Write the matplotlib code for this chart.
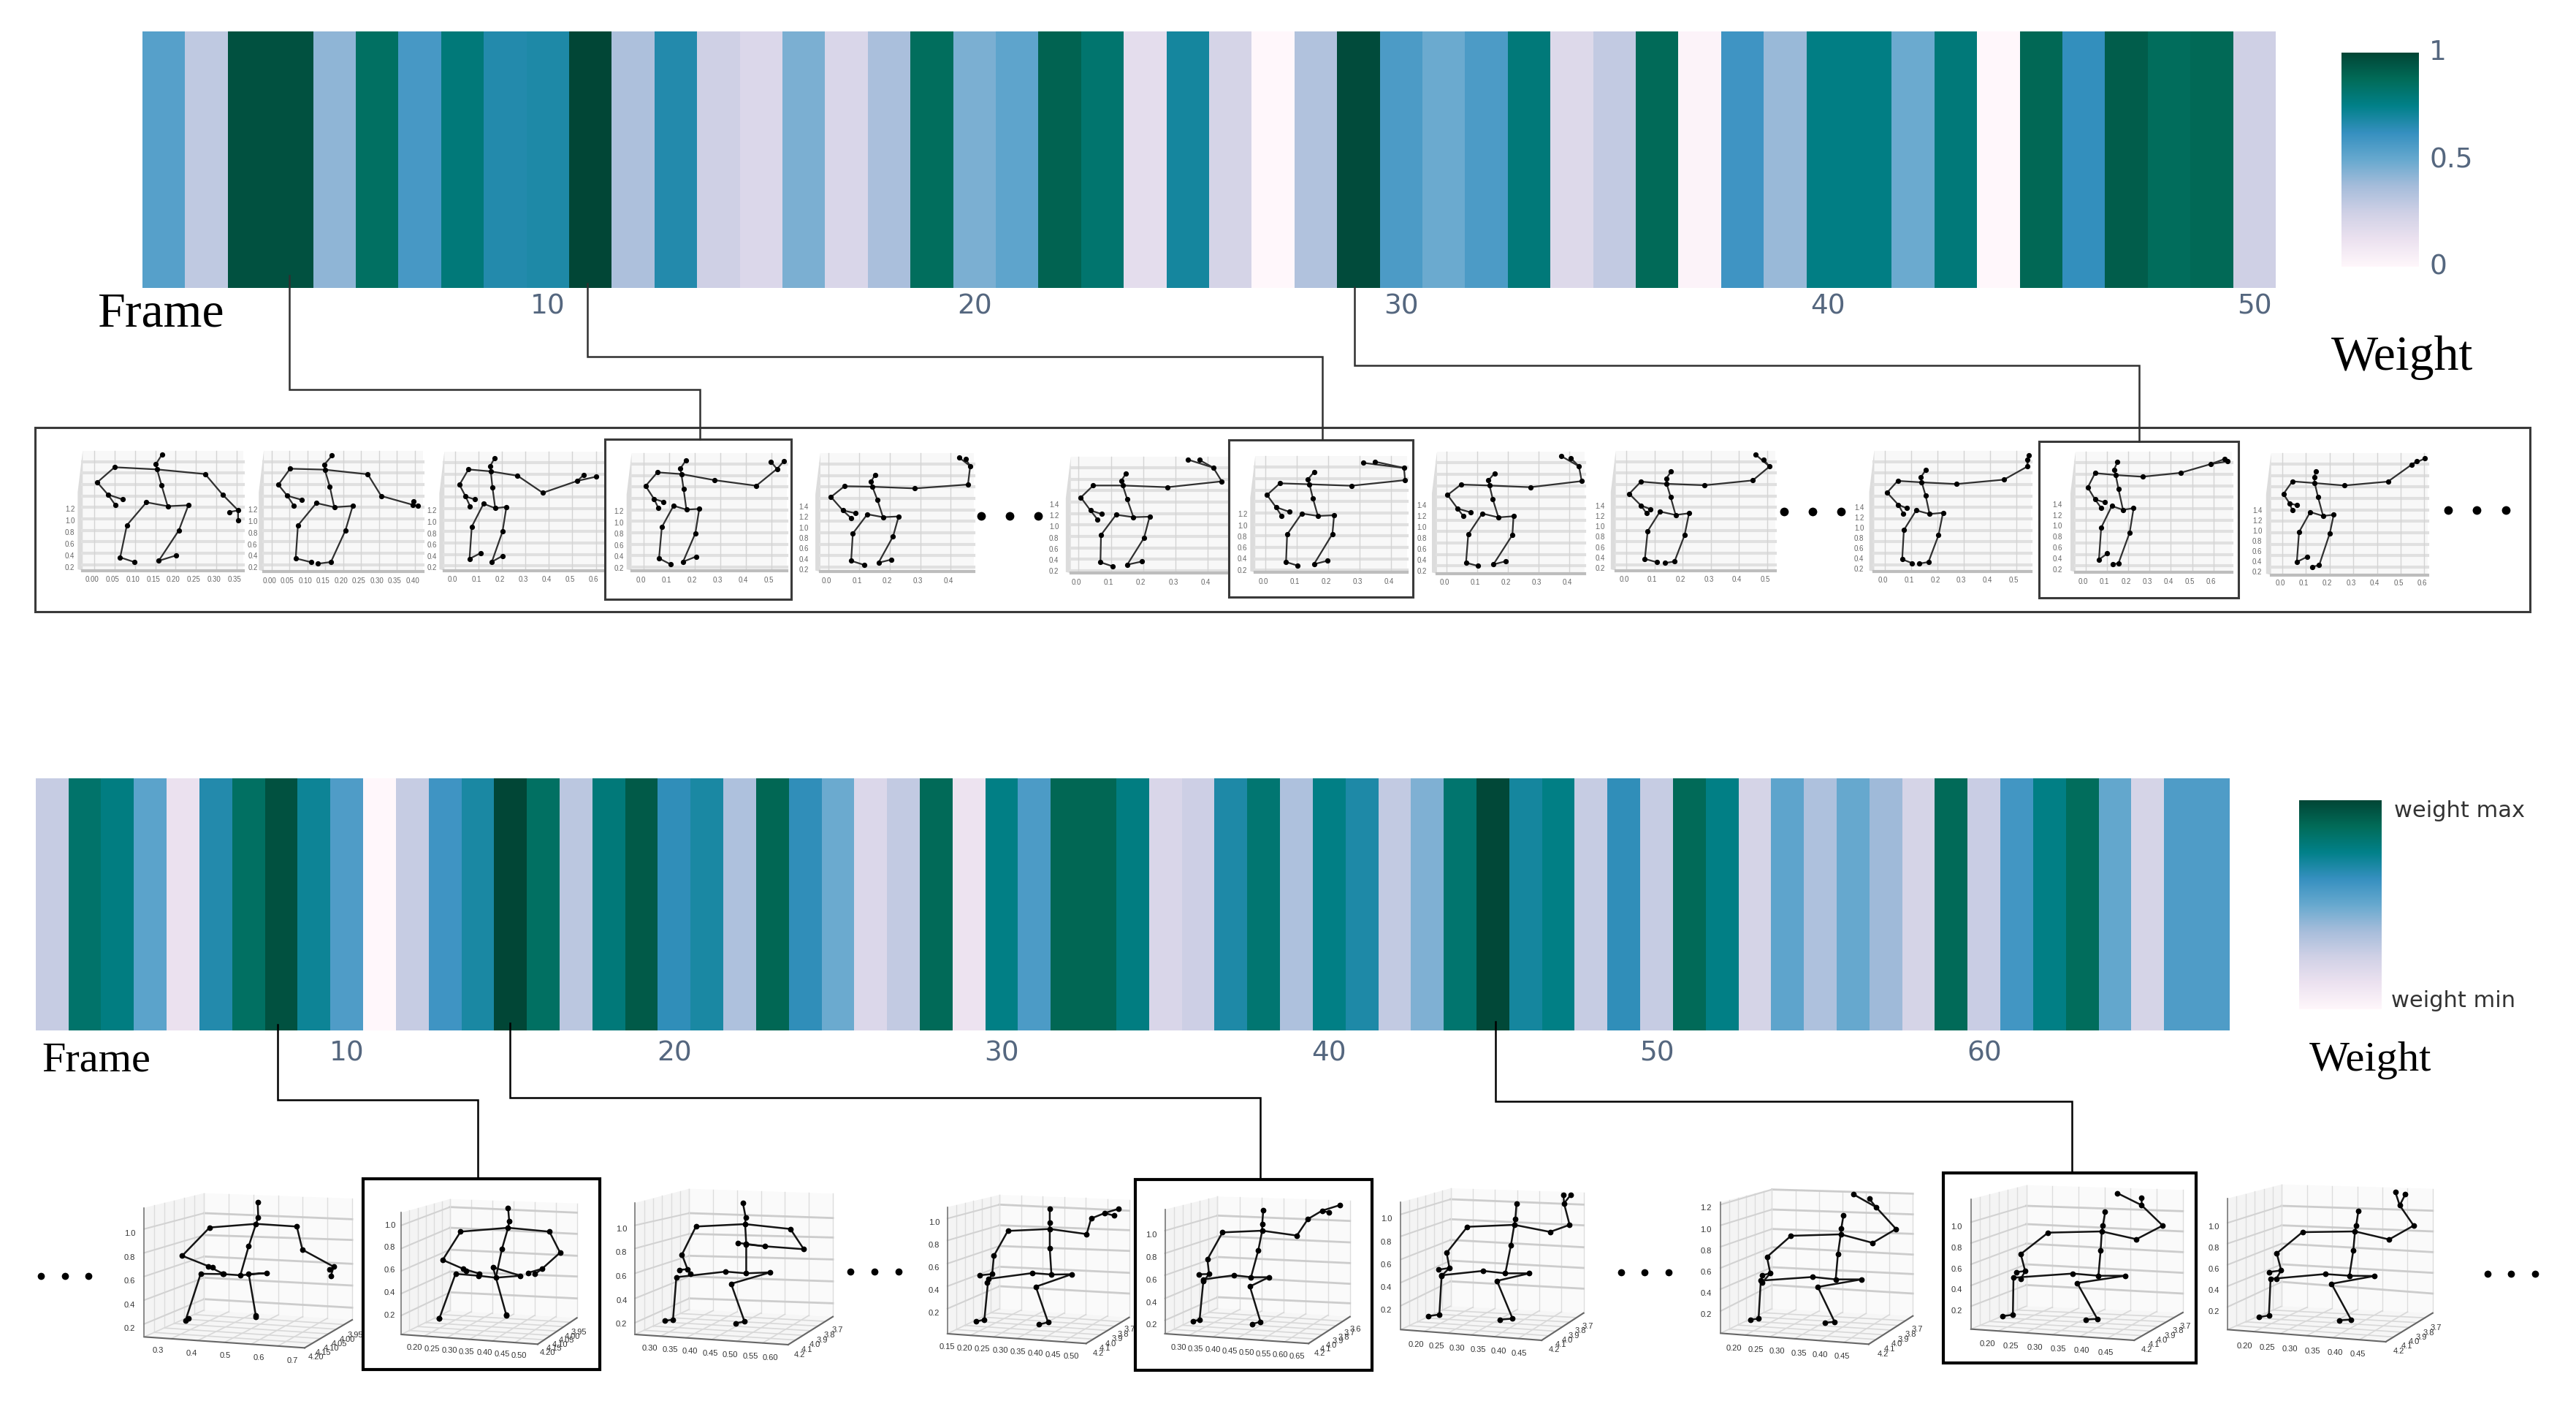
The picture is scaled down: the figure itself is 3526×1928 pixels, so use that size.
import numpy as np
import matplotlib
matplotlib.use("Agg")
import matplotlib.pyplot as plt
from matplotlib.patches import Polygon, Rectangle

W, H = 3526, 1928

# frame weights
top_weights = [0.54, 0.30, 0.96, 0.96, 0.42, 0.85, 0.58, 0.79, 0.67, 0.68,
               1.00, 0.355, 0.67, 0.25, 0.20, 0.46, 0.21, 0.36, 0.86, 0.46,
               0.52, 0.90, 0.82, 0.16, 0.70, 0.23, 0.00, 0.34, 0.98, 0.57,
               0.49, 0.57, 0.79, 0.19, 0.29, 0.875, 0.02, 0.60, 0.40, 0.765,
               0.765, 0.49, 0.79, 0.00, 0.885, 0.63, 0.92, 0.865, 0.88, 0.25]
bottom_weights = [0.28, 0.83, 0.77, 0.53, 0.13, 0.67, 0.85, 0.96, 0.72, 0.56,
                  0.00, 0.28, 0.60, 0.69, 1.00, 0.85, 0.31, 0.79, 0.93, 0.64,
                  0.69, 0.35, 0.89, 0.64, 0.49, 0.20, 0.29, 0.875, 0.12, 0.76,
                  0.57, 0.89, 0.89, 0.77, 0.21, 0.26, 0.68, 0.81, 0.35, 0.76,
                  0.68, 0.29, 0.45, 0.82, 0.99, 0.70, 0.76, 0.28, 0.64, 0.28,
                  0.875, 0.76, 0.23, 0.52, 0.35, 0.50, 0.39, 0.23, 0.875, 0.27,
                  0.59, 0.76, 0.865, 0.51, 0.23, 0.56, 0.56]
top_ticks = [10, 20, 30, 40, 50]
bottom_ticks = [10, 20, 30, 40, 50, 60]

# crops the joints were read in
ORG_A, ORG_B, ORG_C = (0, 570), (1100, 570), (2290, 570)
ORG_D, ORG_E, ORG_F = (0, 1580), (1150, 1580), (2326, 1580)
SX, SY = 1.307, 3.0

# joint order: head, chin, neck, spine, pelvis / l shoulder, elbow, wrist, hand, hand /
# r shoulder, elbow, wrist, hand, hand / l hip, knee, ankle, foot / r hip, knee, ankle, foot
limbs = [[0, 1, 2, 3, 4], [2, 5, 6, 7, 8], [7, 9], [2, 10, 11, 12, 13], [12, 14],
         [4, 15, 16, 17, 18], [4, 19, 20, 21, 22]]

top_org = [ORG_A, ORG_A, ORG_A, ORG_A, ORG_B, ORG_B, ORG_B, ORG_B, ORG_B, ORG_C, ORG_C, ORG_C]
top_x = [
    [290, 279, 281, 289, 300, 205, 174, 193, 206, 219, 367, 398, 426, 426, 410, 262, 227, 215, 240, 337, 320, 284, 315],
    [594, 580, 581, 590, 598, 519, 498, 514, 526, 540, 658, 682, 738, 748, 740, 566, 533, 529, 557, 631, 618, 592, 569],
    [885, 877, 878, 881, 886, 838, 822, 833, 841, 849, 926, 971, 1033, 1066, 1044, 865, 844, 840, 860, 906, 899, 880, 899],
    [1227, 1217, 1219, 1223, 1228, 1176, 1155, 1170, 1178, 1187, 1278, 1353, 1390, 1402, 1379, 1205, 1184, 1179, 1200, 1251, 1244, 1222, 1245],
    [128, 120, 123, 132, 142, 73, 49, 70, 85, 93, 199, 294, 298, 278, 290, 114, 88, 85, 108, 170, 160, 134, 157],
    [577, 568, 571, 579, 590, 518, 496, 513, 526, 533, 651, 748, 733, 688, 708, 559, 532, 531, 553, 619, 609, 579, 605],
    [913, 902, 905, 911, 920, 852, 829, 845, 855, 869, 980, 1076, 1074, 1001, 1022, 891, 865, 863, 884, 949, 946, 913, 937],
    [1236, 1225, 1227, 1233, 1243, 1176, 1152, 1170, 1180, 1193, 1300, 1392, 1387, 1355, 1373, 1214, 1189, 1185, 1206, 1270, 1268, 1234, 1256],
    [1552, 1543, 1544, 1551, 1560, 1498, 1477, 1498, 1508, 1515, 1612, 1698, 1728, 1703, 1718, 1532, 1510, 1505, 1526, 1584, 1576, 1558, 1541],
    [452, 443, 445, 452, 459, 402, 383, 403, 412, 418, 507, 592, 634, 636, 634, 435, 413, 410, 428, 483, 475, 457, 440],
    [795, 789, 792, 797, 805, 755, 742, 755, 766, 772, 840, 908, 962, 992, 987, 785, 766, 762, 777, 824, 817, 797, 787],
    [1150, 1147, 1148, 1154, 1163, 1108, 1092, 1103, 1108, 1116, 1201, 1279, 1321, 1345, 1331, 1140, 1120, 1116, 1134, 1182, 1175, 1156, 1143],
]
top_y = [
    [155, 195, 217, 282, 368, 208, 270, 320, 362, 340, 236, 320, 385, 425, 392, 352, 446, 578, 597, 364, 467, 592, 570],
    [160, 198, 218, 287, 372, 214, 280, 325, 367, 342, 237, 326, 362, 367, 348, 355, 447, 582, 598, 367, 467, 597, 604],
    [170, 203, 225, 291, 376, 217, 280, 328, 368, 340, 243, 313, 264, 247, 240, 358, 452, 584, 560, 371, 472, 596, 572],
    [180, 214, 236, 298, 382, 229, 285, 338, 376, 350, 261, 284, 215, 184, 185, 366, 454, 582, 607, 379, 479, 596, 575],
    [240, 268, 288, 342, 413, 286, 330, 385, 417, 397, 295, 279, 203, 168, 175, 401, 480, 592, 609, 410, 492, 600, 587],
    [233, 264, 283, 340, 413, 283, 332, 385, 423, 400, 290, 266, 210, 177, 178, 403, 486, 598, 615, 411, 498, 608, 595],
    [228, 258, 278, 335, 408, 274, 322, 372, 408, 391, 284, 261, 211, 190, 185, 398, 484, 597, 612, 405, 482, 606, 592],
    [233, 262, 283, 340, 414, 279, 322, 378, 408, 393, 290, 265, 204, 162, 172, 398, 484, 600, 613, 409, 486, 607, 594],
    [226, 255, 276, 330, 404, 267, 317, 365, 397, 380, 282, 262, 205, 156, 178, 390, 470, 584, 598, 397, 487, 595, 601],
    [220, 250, 270, 325, 400, 264, 312, 362, 398, 376, 277, 259, 205, 158, 178, 385, 466, 586, 602, 395, 487, 597, 604],
    [187, 218, 240, 298, 383, 232, 291, 340, 375, 352, 247, 231, 195, 184, 174, 367, 456, 587, 562, 376, 476, 602, 607],
    [224, 250, 273, 331, 408, 266, 318, 356, 385, 364, 283, 267, 198, 172, 182, 392, 474, 597, 576, 403, 479, 610, 617],
]
# pane: x0, x1, y top, y bottom in the crop
top_pane = [(148, 435, 140, 632), (472, 757, 140, 635), (795, 1080, 145, 632), (1130, 1408, 150, 632),
            (30, 305, 150, 637), (478, 760, 165, 643), (808, 1080, 163, 640), (1133, 1397, 145, 645),
            (1453, 1738, 140, 632), (360, 640, 140, 637), (720, 1000, 145, 638), (1070, 1350, 150, 650)]
top_xlabels = [["0.00", "0.05", "0.10", "0.15", "0.20", "0.25", "0.30", "0.35"],
               ["0.00", "0.05", "0.10", "0.15", "0.20", "0.25", "0.30", "0.35", "0.40"],
               ["0.0", "0.1", "0.2", "0.3", "0.4", "0.5", "0.6"],
               ["0.0", "0.1", "0.2", "0.3", "0.4", "0.5"],
               ["0.0", "0.1", "0.2", "0.3", "0.4"],
               ["0.0", "0.1", "0.2", "0.3", "0.4"],
               ["0.0", "0.1", "0.2", "0.3", "0.4"],
               ["0.0", "0.1", "0.2", "0.3", "0.4"],
               ["0.0", "0.1", "0.2", "0.3", "0.4", "0.5"],
               ["0.0", "0.1", "0.2", "0.3", "0.4", "0.5"],
               ["0.0", "0.1", "0.2", "0.3", "0.4", "0.5", "0.6"],
               ["0.0", "0.1", "0.2", "0.3", "0.4", "0.5", "0.6"]]
top_xlab_pos = [(165, 419, 668), (482, 738, 674), (810, 1062, 668), (1147, 1376, 672), (41, 259, 674),
                (488, 719, 680), (822, 1047, 678), (1146, 1366, 682), (1468, 1720, 668), (375, 610, 673),
                (734, 963, 678), (1086, 1340, 685)]
top_ylabels = [["1.2", "1.0", "0.8", "0.6", "0.4", "0.2"], ["1.2", "1.0", "0.8", "0.6", "0.4", "0.2"],
               ["1.2", "1.0", "0.8", "0.6", "0.4", "0.2"], ["1.2", "1.0", "0.8", "0.6", "0.4", "0.2"],
               ["1.4", "1.2", "1.0", "0.8", "0.6", "0.4", "0.2"], ["1.4", "1.2", "1.0", "0.8", "0.6", "0.4", "0.2"],
               ["1.2", "1.0", "0.8", "0.6", "0.4", "0.2"], ["1.4", "1.2", "1.0", "0.8", "0.6", "0.4", "0.2"],
               ["1.4", "1.2", "1.0", "0.8", "0.6", "0.4", "0.2"], ["1.4", "1.2", "1.0", "0.8", "0.6", "0.4", "0.2"],
               ["1.4", "1.2", "1.0", "0.8", "0.6", "0.4", "0.2"], ["1.4", "1.2", "1.0", "0.8", "0.6", "0.4", "0.2"]]
top_ylab_pos = [(125, 382, 620), (452, 384, 622), (773, 388, 622), (1107, 390, 624), (0, 372, 630),
                (448, 362, 637), (785, 403, 632), (1106, 366, 635), (1425, 368, 625), (333, 374, 628),
                (688, 362, 630), (1045, 386, 640)]

bot_org = [ORG_D, ORG_D, ORG_D, ORG_E, ORG_E, ORG_E, ORG_F, ORG_F, ORG_F]
bot_x = [
    [461, 462, 458, 445, 430, 375, 326, 373, 400, 380, 531, 541, 597, 592, 590, 398, 359, 332, 337, 477, 445, 458, 458],
    [909, 911, 909, 898, 887, 824, 792, 828, 857, 834, 983, 1002, 970, 945, 957, 856, 815, 786, 786, 931, 882, 906, 906],
    [1329, 1334, 1333, 1335, 1335, 1245, 1220, 1230, 1235, 1215, 1414, 1438, 1368, 1320, 1335, 1298, 1210, 1204, 1190, 1378, 1308, 1332, 1316],
    [375, 375, 375, 375, 378, 300, 275, 272, 263, 250, 441, 449, 473, 498, 490, 344, 265, 258, 243, 414, 350, 372, 355],
    [757, 755, 755, 748, 735, 684, 657, 660, 650, 642, 817, 837, 862, 894, 875, 705, 650, 643, 631, 767, 733, 752, 737],
    [1210, 1208, 1206, 1200, 1190, 1122, 1085, 1090, 1076, 1071, 1270, 1305, 1295, 1294, 1307, 1150, 1076, 1072, 1052, 1233, 1175, 1203, 1180],
    [258, 254, 253, 248, 244, 164, 121, 127, 113, 112, 310, 352, 316, 276, 304, 203, 110, 106, 92, 290, 212, 242, 225],
    [726, 722, 720, 718, 714, 624, 575, 583, 575, 567, 782, 829, 791, 748, 791, 668, 562, 561, 543, 762, 676, 712, 691],
    [1179, 1175, 1173, 1170, 1163, 1079, 1033, 1041, 1032, 1019, 1234, 1278, 1253, 1245, 1263, 1120, 1022, 1019, 1001, 1208, 1131, 1166, 1145],
]
bot_y = [
    [196, 257, 284, 375, 495, 299, 415, 458, 490, 462, 295, 390, 460, 497, 472, 490, 489, 680, 672, 486, 490, 665, 660],
    [218, 274, 300, 387, 505, 316, 432, 468, 488, 478, 316, 402, 468, 485, 490, 497, 489, 672, 672, 497, 462, 660, 657],
    [198, 257, 285, 365, 487, 295, 410, 470, 490, 473, 305, 388, 376, 362, 368, 480, 503, 677, 682, 483, 530, 685, 692],
    [222, 278, 305, 385, 492, 313, 415, 490, 525, 495, 326, 262, 240, 222, 250, 486, 510, 677, 685, 491, 542, 688, 697],
    [228, 285, 312, 393, 503, 319, 430, 490, 520, 491, 332, 264, 230, 207, 238, 495, 512, 678, 683, 503, 541, 686, 695],
    [202, 263, 288, 372, 487, 296, 403, 465, 497, 472, 317, 288, 200, 165, 165, 477, 495, 656, 663, 487, 518, 673, 677],
    [248, 302, 327, 407, 512, 333, 420, 487, 524, 495, 362, 305, 215, 163, 181, 502, 517, 673, 677, 512, 543, 686, 690],
    [235, 292, 315, 392, 497, 320, 408, 478, 510, 482, 347, 291, 207, 158, 178, 488, 505, 657, 663, 497, 527, 674, 677],
    [232, 292, 315, 393, 497, 318, 405, 475, 510, 482, 348, 291, 208, 152, 163, 490, 510, 660, 667, 498, 530, 677, 680],
]
# ground corners of each 3d box: front left, back left, front right, back right
box_a = [(258, 748), (718, 738), (1136, 738), (192, 735), (581, 735), (1003, 718), (38, 733), (486, 716), (945, 718)]
box_b = [(365, 638), (805, 640), (1233, 635), (285, 632), (675, 630), (1092, 622), (130, 632), (585, 622), (1042, 622)]
box_c = [(545, 793), (962, 778), (1410, 780), (440, 775), (838, 775), (1255, 762), (303, 778), (778, 762), (1228, 768)]
box_d = [(630, 678), (1032, 670), (1490, 665), (517, 668), (912, 665), (1330, 650), (382, 662), (865, 648), (1312, 650)]
box_top = [(218, 158, 180), (238, 182, 200), (198, 140, 160), (215, 165, 185), (225, 172, 188),
           (195, 138, 155), (195, 140, 158), (182, 125, 145), (180, 122, 140)]
lev_left = [[695, 597, 500, 403, 305], [660, 570, 477, 385, 290], [690, 590, 487, 385, 290],
            [632, 540, 447, 352, 262], [680, 590, 495, 405, 312], [620, 525, 430, 335, 245],
            [642, 552, 465, 378, 290, 205], [622, 537, 450, 363, 277], [625, 540, 452, 365, 280]]
lev_back = [[593, 505, 418, 330, 240], [565, 480, 390, 300, 215], [590, 500, 415, 325, 240],
            [540, 460, 375, 290, 205], [585, 500, 420, 335, 250], [520, 435, 350, 265, 183],
            [535, 462, 380, 305, 225, 143], [535, 450, 365, 285, 210], [522, 450, 365, 290, 210]]
lev_right = [[628, 537, 448, 350, 265], [590, 500, 415, 325, 238], [610, 520, 430, 340, 260],
             [570, 485, 395, 310, 230], [610, 530, 445, 360, 272], [550, 465, 380, 290, 205],
             [570, 490, 410, 325, 245, 160], [570, 485, 400, 315, 232], [570, 485, 400, 315, 230]]
bot_xlabels = [["0.3", "0.4", "0.5", "0.6", "0.7"],
               ["0.20", "0.25", "0.30", "0.35", "0.40", "0.45", "0.50"],
               ["0.30", "0.35", "0.40", "0.45", "0.50", "0.55", "0.60"],
               ["0.15", "0.20", "0.25", "0.30", "0.35", "0.40", "0.45", "0.50"],
               ["0.30", "0.35", "0.40", "0.45", "0.50", "0.55", "0.60", "0.65"],
               ["0.20", "0.25", "0.30", "0.35", "0.40", "0.45"],
               ["0.20", "0.25", "0.30", "0.35", "0.40", "0.45"],
               ["0.20", "0.25", "0.30", "0.35", "0.40", "0.45"],
               ["0.20", "0.25", "0.30", "0.35", "0.40", "0.45"]]
bot_xlab_pos = [((283, 805), (523, 845)), ((741, 793), (929, 825)), ((1163, 795), (1378, 835)),
                ((191, 788), (413, 827)), ((606, 792), (818, 828)), ((1030, 780), (1215, 815)),
                ((62, 795), (255, 828)), ((515, 778), (727, 812)), ((976, 785), (1178, 820))]
depth_fine = ["3.95", "4.00", "4.05", "4.10", "4.15", "4.20"]
depth_std = ["3.7", "3.8", "3.9", "4.0", "4.1", "4.2"]
bot_depth = [depth_fine, depth_fine, depth_std, depth_std, ["3.6"] + depth_std, depth_std, depth_std, depth_std, depth_std]
bot_depth_pos = [((635, 740), (565, 830)), ((1035, 730), (980, 812)), ((1498, 720), (1430, 822)),
                 ((518, 718), (462, 815)), ((922, 716), (858, 815)), ((1337, 705), (1277, 800)),
                 ((390, 718), (328, 818)), ((870, 705), (800, 800)), ((1318, 712), (1252, 806))]
zlabels = ["0.2", "0.4", "0.6", "0.8", "1.0", "1.2"]
bot_zlab_x = [232, 697, 1112, 168, 557, 977, 12, 460, 920]
bot_zlab_y = [(715, 325), (660, 290), (697, 305), (652, 280), (700, 330), (640, 265), (658, 220), (643, 296), (645, 296)]

# panels, dots, connectors
outer_box = (48, 585, 3463, 837)
top_boxes = [(828, 601, 1083, 820), (1682, 602, 1934, 817), (2791, 604, 3064, 818)]
bot_boxes = [(497, 1613, 821, 1874), (1554, 1614, 1878, 1875), (2660, 1605, 3006, 1865)]
top_links = [([396, 396, 958, 958], [377, 533, 533, 601]),
             ([804, 804, 1810, 1810], [388, 488, 488, 601]),
             ([1854, 1854, 2928, 2928], [393, 500, 500, 604])]
bot_links = [([380, 380, 654, 654], [1402, 1505, 1505, 1613]),
             ([698, 698, 1725, 1725], [1400, 1502, 1502, 1614]),
             ([2047, 2047, 2836, 2836], [1398, 1507, 1507, 1605])]
top_dots_x = [1343, 1382, 1421, 2442, 2481, 2520, 3351, 3390, 3430]
top_dots_y = [706, 706, 706, 700, 700, 700, 698, 698, 698]
bot_dots_x = [56, 89, 121, 1164, 1197, 1230, 2219, 2251, 2284, 3405, 3437, 3470]
bot_dots_y = [1746, 1746, 1746, 1740, 1740, 1740, 1741, 1741, 1741, 1743, 1743, 1743]


def to_px(org, x, y):
    return org[0] + np.asarray(x, float) / SX, org[1] + np.asarray(y, float) / SY


def px_axes(fig, x0, y0, x1, y1):
    return fig.add_axes([x0 / W, 1 - y1 / H, (x1 - x0) / W, (y1 - y0) / H])


def strip(fig, vals, x0, y0, x1, y1):
    a = px_axes(fig, x0, y0, x1, y1)
    a.imshow(np.array(vals)[None, :], cmap="PuBuGn", vmin=0, vmax=1, aspect="auto",
             interpolation="nearest", extent=(0.5, len(vals) + 0.5, 0, 1))
    a.axis("off")


def grad(fig, x0, y0, x1, y1):
    a = px_axes(fig, x0, y0, x1, y1)
    a.imshow(np.linspace(1, 0, 256)[:, None], cmap="PuBuGn", vmin=0, vmax=1, aspect="auto")
    a.axis("off")


def skeleton(ax, org, xs, ys, lw, ms, col):
    px, py = to_px(org, xs, ys)
    for l in limbs:
        ax.plot(px[l], py[l], "-", color=col, lw=lw, solid_capstyle="round", zorder=5)
    ax.plot(px, py, "o", color="black", ms=ms, mew=0, zorder=6)


fig = plt.figure(figsize=(W / 100, H / 100), dpi=100, facecolor="white")
ax = fig.add_axes([0, 0, 1, 1])
ax.set_xlim(0, W)
ax.set_ylim(H, 0)
ax.axis("off")

strip(fig, top_weights, 195, 43, 3115, 394)
strip(fig, bottom_weights, 49, 1065, 3052, 1410)
grad(fig, 3205, 72, 3311, 365)
grad(fig, 3147, 1095, 3260, 1381)

# overlay sits above the strips so the connectors start inside them
ax.set_zorder(10)
ax.patch.set_alpha(0)

TICK = "#55677f"
cw = (3115 - 195) / len(top_weights)
for t in top_ticks:
    ax.text(195 + (t - 0.5) * cw, 420, str(t), fontsize=27, color=TICK, ha="center", va="center", family="DejaVu Sans")
cw = (3052 - 49) / len(bottom_weights)
for t in bottom_ticks:
    ax.text(49 + (t - 0.5) * cw, 1442, str(t), fontsize=27, color=TICK, ha="center", va="center", family="DejaVu Sans")

ax.text(220, 430, "Frame", fontsize=49, family="Liberation Serif", ha="center", va="center", color="black")
ax.text(3288, 490, "Weight", fontsize=49, family="Liberation Serif", ha="center", va="center", color="black")
ax.text(132, 1452, "Frame", fontsize=42, family="Liberation Serif", ha="center", va="center", color="black")
ax.text(3245, 1451, "Weight", fontsize=42, family="Liberation Serif", ha="center", va="center", color="black")

ax.text(3325, 72, "1", fontsize=27, color=TICK, ha="left", va="center", family="DejaVu Sans")
ax.text(3325, 219, "0.5", fontsize=27, color=TICK, ha="left", va="center", family="DejaVu Sans")
ax.text(3325, 365, "0", fontsize=27, color=TICK, ha="left", va="center", family="DejaVu Sans")
ax.text(3277, 1110, "weight max", fontsize=22, color="#333333", ha="left", va="center", family="DejaVu Sans")
ax.text(3273, 1370, "weight min", fontsize=22, color="#333333", ha="left", va="center", family="DejaVu Sans")

# top skeleton row, flat panes
for i in range(12):
    org = top_org[i]
    x0, x1, yt, yb = top_pane[i]
    xl = top_xlabels[i]
    xa, xb, xy = top_xlab_pos[i]
    xpos = np.linspace(xa, xb, len(xl))
    yl = top_ylabels[i]
    ylx, ya, yz = top_ylab_pos[i]
    ypos = np.linspace(ya, yz, len(yl))

    px, py = to_px(org, [x0, x1, x1, x0], [yt, yt, yb, yb])
    ax.add_patch(Polygon(np.c_[px, py], fc="#f8f8f8", ec="none", zorder=1))
    wx, wy = to_px(org, [x0, x0 - 9, x0 - 9, x0], [yt, yt + 170, yb - 5, yb])
    ax.add_patch(Polygon(np.c_[wx, wy], fc="#dcdcdc", ec="none", zorder=1))
    for yv in np.arange(yt + 45, yb, 47.0):
        hx, hy = to_px(org, [x0, x1], [yv, yv])
        ax.plot(hx, hy, color="#e0e0e0", lw=3, zorder=2)
    for xv in xpos:
        vx, vy = to_px(org, [xv + 4, xv + 4], [yt, yb])
        ax.plot(vx, vy, color="#d4d4d4", lw=1.0, zorder=2)
    fx, fy = to_px(org, [x0, x1], [yb, yb])
    ax.plot(fx, fy, color="#bdbdbd", lw=3, zorder=2)
    for lab, xv in zip(xl, xpos):
        tx, ty = to_px(org, xv, xy)
        ax.text(tx, ty, lab, fontsize=7, color="#666666", ha="center", va="center", family="Liberation Sans")
    for lab, yv in zip(yl, ypos):
        tx, ty = to_px(org, ylx, yv)
        ax.text(tx, ty, lab, fontsize=7, color="#666666", ha="center", va="center", family="Liberation Sans")
    skeleton(ax, org, top_x[i], top_y[i], 1.6, 5.2, "#303030")

# bottom skeleton row, 3d style boxes
for i in range(9):
    org = bot_org[i]
    A, B, C, D = [np.array(p, float) for p in (box_a[i], box_b[i], box_c[i], box_d[i])]
    ta, tb, td = box_top[i]
    A1, B1, D1 = np.array([A[0], ta]), np.array([B[0], tb]), np.array([D[0], td])

    def poly(pts, fc):
        p = np.array(pts)
        x, y = to_px(org, p[:, 0], p[:, 1])
        ax.add_patch(Polygon(np.c_[x, y], fc=fc, ec="none", zorder=1))

    def seg(p, q, col, lw):
        x, y = to_px(org, [p[0], q[0]], [p[1], q[1]])
        ax.plot(x, y, color=col, lw=lw, zorder=2)

    poly([A, B, B1, A1], "#f4f4f4")
    poly([B, D, D1, B1], "#fafafa")
    poly([A, B, D, C], "#f6f6f6")
    for f in np.linspace(0, 1, 6, endpoint=False)[1:]:
        seg(A + f * (B - A), A1 + f * (B1 - A1), "#dddddd", 1)
        seg(A + f * (B - A), C + f * (D - C), "#d8d8d8", 1.2)
    for f in np.linspace(0, 1, 7):
        seg(B + f * (D - B), B1 + f * (D1 - B1), "#dddddd", 1)
        seg(A + f * (C - A), B + f * (D - B), "#d8d8d8", 1.2)
    for yl, yb, yr in zip(lev_left[i], lev_back[i], lev_right[i]):
        seg((A[0], yl), (B[0], yb), "#d2d2d2", 1.5)
        seg((B[0], yb), (D[0], yr), "#cccccc", 2)
    seg(A, C, "#666666", 1.5)
    seg(C, D, "#666666", 1.5)
    seg(A, A1, "#777777", 1.2)
    seg(B, B1, "#e0e0e0", 1)

    (xa, ya), (xb, yb) = bot_xlab_pos[i]
    labs = bot_xlabels[i]
    for lab, xv, yv in zip(labs, np.linspace(xa, xb, len(labs)), np.linspace(ya, yb, len(labs))):
        tx, ty = to_px(org, xv, yv)
        ax.text(tx, ty, lab, fontsize=8, color="#333333", ha="center", va="center", family="Liberation Sans")
    (xa, ya), (xb, yb) = bot_depth_pos[i]
    labs = bot_depth[i]
    for lab, xv, yv in zip(labs, np.linspace(xa, xb, len(labs)), np.linspace(ya, yb, len(labs))):
        tx, ty = to_px(org, xv, yv)
        ax.text(tx, ty, lab, fontsize=8, color="#333333", ha="center", va="center", family="Liberation Sans")
    n = len(lev_left[i])
    for lab, yv in zip(zlabels[:n], np.linspace(bot_zlab_y[i][0], bot_zlab_y[i][1], n)):
        tx, ty = to_px(org, bot_zlab_x[i], yv)
        ax.text(tx, ty, lab, fontsize=8, color="#333333", ha="center", va="center", family="Liberation Sans")
    skeleton(ax, org, bot_x[i], bot_y[i], 1.8, 5.6, "#141414")

# frames around the panels
x0, y0, x1, y1 = outer_box
ax.add_patch(Rectangle((x0, y0), x1 - x0, y1 - y0, fc="none", ec="#3a3a3a", lw=2.2, zorder=7))
for b in top_boxes:
    ax.add_patch(Rectangle((b[0], b[1]), b[2] - b[0], b[3] - b[1], fc="none", ec="#3a3a3a", lw=2.2, zorder=7))
for b in bot_boxes:
    ax.add_patch(Rectangle((b[0], b[1]), b[2] - b[0], b[3] - b[1], fc="none", ec="black", lw=3, zorder=7))

for lx, ly in top_links:
    ax.plot(lx, ly, color="#303030", lw=1.8, zorder=8, solid_joinstyle="miter")
for lx, ly in bot_links:
    ax.plot(lx, ly, color="black", lw=1.8, zorder=8, solid_joinstyle="miter")

ax.plot(top_dots_x, top_dots_y, "o", color="black", ms=8.5, mew=0, zorder=8)
ax.plot(bot_dots_x, bot_dots_y, "o", color="black", ms=7, mew=0, zorder=8)

fig.savefig("out.png", dpi=100, facecolor="white")
